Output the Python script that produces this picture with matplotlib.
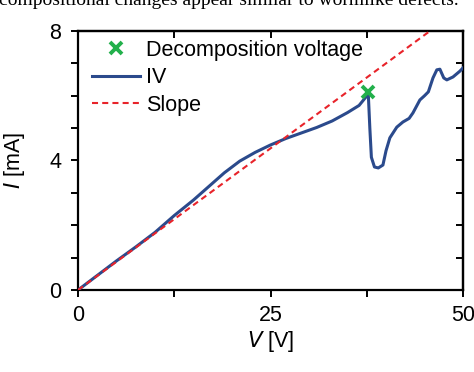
import numpy as np
import matplotlib.pyplot as plt

plt.rcParams['font.family'] = ['Liberation Sans', 'DejaVu Sans']

# IV curve
v_iv = [0, 2.5, 5, 7.5, 10, 12.5, 15, 17, 19, 21, 23, 25, 27, 29, 31, 33, 35, 36.5,
        37.7, 37.9, 38.1, 38.5, 39.0, 39.6, 40.0, 40.5, 41.4, 42.2, 43.0, 43.5, 44.4,
        45.0, 45.5, 46.1, 46.6, 47.0, 47.5, 47.9, 48.7, 49.6, 50.0]
i_iv = [0, 0.45, 0.9, 1.33, 1.78, 2.3, 2.78, 3.2, 3.62, 3.98, 4.25, 4.48, 4.68, 4.85,
        5.02, 5.22, 5.48, 5.7, 6.05, 5.0, 4.1, 3.8, 3.77, 3.86, 4.3, 4.7, 5.03, 5.19,
        5.3, 5.47, 5.87, 6.0, 6.12, 6.55, 6.8, 6.82, 6.55, 6.49, 6.58, 6.76, 6.86]

v_slope = [0, 50]
slope = 0.175  # mA per V
i_slope = [slope * v for v in v_slope]

v_dec = [37.7]
i_dec = [6.12]

fig = plt.figure(figsize=(4.74, 3.72), dpi=100)
ax = fig.add_axes([0.1646, 0.2204, 0.8122, 0.6963])

ax.plot(v_dec, i_dec, 'x', color='#22B04B', markersize=9, markeredgewidth=2.8,
        label='Decomposition voltage', zorder=5)
ax.plot(v_iv, i_iv, color='#2B4A8C', lw=2.2, label='IV', zorder=3)
ax.plot(v_slope, i_slope, '--', color='#E8232A', lw=1.5, dashes=(2.9, 2.0),
        label='Slope', zorder=4)

ax.set_xlim(0, 50)
ax.set_ylim(0, 8)
ax.set_xticks([0, 25, 50])
ax.set_xticks([12.5, 37.5], minor=True)
ax.set_yticks([0, 4, 8])
ax.set_yticks([1, 2, 3, 5, 6, 7], minor=True)
ax.tick_params(which='both', direction='out', length=5, width=1.4, labelsize=15.5)
ax.tick_params(axis='x', pad=6)
ax.tick_params(axis='y', pad=7)

for s in ax.spines.values():
    s.set_linewidth(1.6)

# inward ticks on top and right
secx = ax.secondary_xaxis('top')
secx.set_xticks([0, 12.5, 25, 37.5, 50])
secx.tick_params(direction='in', length=5, width=1.4, labeltop=False)
secx.spines['top'].set_linewidth(1.6)
secy = ax.secondary_yaxis('right')
secy.set_yticks(range(0, 9))
secy.tick_params(direction='in', length=5, width=1.4, labelright=False)
secy.spines['right'].set_linewidth(1.6)

ax.set_xlabel('$\\mathit{V}$ [V]', fontsize=15.5, labelpad=2)
ax.set_ylabel('$\\mathit{I}$ [mA]', fontsize=15.5, labelpad=16)

leg = ax.legend(loc='upper left', fontsize=15.5, frameon=False, handlelength=2.2,
                handletextpad=0.3, labelspacing=0.3, borderaxespad=0.0,
                bbox_to_anchor=(0.015, 1.0))

# clipped paper text above the chart
fig.text(-0.003, 1 - 5 / 372, 'compositional changes appear similar to wormlike defects.',
         fontsize=14, family='Liberation Serif', va='baseline', ha='left')

fig.savefig('out.png', dpi=100)
